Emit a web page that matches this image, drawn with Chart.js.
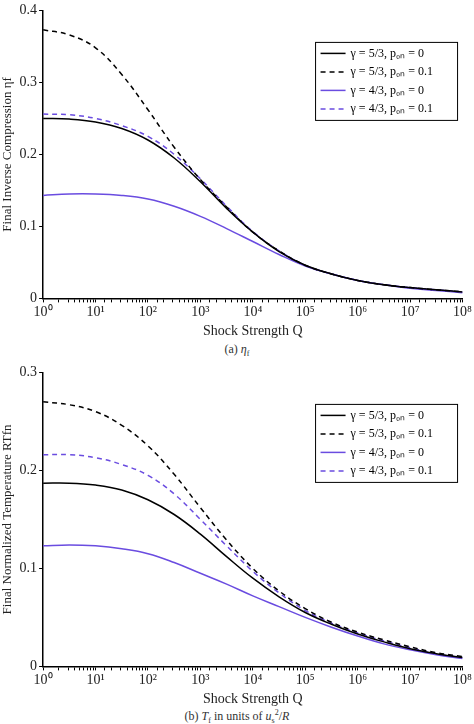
<!DOCTYPE html><html><head><meta charset="utf-8">
<script src="https://cdn.jsdelivr.net/npm/chart.js@4"></script>
<style>body{margin:0;background:#fff;font-family:'Liberation Serif',serif}
.c{position:absolute;left:0;width:474px}
.cap{position:absolute;width:474px;text-align:center;font-size:12px;color:#333}</style></head><body>
<div class="c" style="top:0;height:340px"><canvas id="a"></canvas></div>
<div class="cap" style="top:342px">(a) <i>η</i><sub style="font-size:8px">f</sub></div>
<div class="c" style="top:362px;height:346px"><canvas id="b"></canvas></div>
<div class="cap" style="top:708px">(b) <i>T</i><sub style="font-size:8px">f</sub> in units of <i>u</i><sub style="font-size:8px">s</sub><sup style="font-size:8px">2</sup>/<i>R</i></div>
<script>
const logQ=[0,0.5,1,1.5,2,2.5,3,3.5,4,4.5,5,5.5,6,6.5,7,7.5,8];
const labels=["γ = 5/3, p₀ₙ = 0","γ = 5/3, p₀ₙ = 0.1","γ = 4/3, p₀ₙ = 0","γ = 4/3, p₀ₙ = 0.1"];
const etaA=[0.250,0.249,0.245,0.236,0.220,0.195,0.162,0.125,0.092,0.065,0.046,0.034,0.025,0.019,0.015,0.012,0.009];
const etaB=[0.373,0.366,0.348,0.311,0.262,0.210,0.165,0.127,0.092,0.066,0.046,0.034,0.025,0.019,0.015,0.012,0.009];
const etaC=[0.143,0.145,0.145,0.143,0.138,0.128,0.114,0.097,0.079,0.061,0.045,0.034,0.025,0.019,0.014,0.011,0.008];
const etaD=[0.256,0.255,0.250,0.240,0.225,0.200,0.166,0.128,0.093,0.066,0.046,0.034,0.025,0.019,0.015,0.012,0.009];
const rtA=[0.187,0.187,0.185,0.180,0.170,0.155,0.135,0.112,0.090,0.071,0.055,0.043,0.033,0.025,0.018,0.013,0.009];
const rtB=[0.270,0.267,0.260,0.246,0.225,0.196,0.162,0.129,0.100,0.077,0.059,0.045,0.035,0.027,0.020,0.014,0.010];
const rtC=[0.123,0.124,0.123,0.120,0.115,0.106,0.095,0.084,0.072,0.061,0.050,0.040,0.031,0.023,0.017,0.012,0.008];
const rtD=[0.216,0.216,0.213,0.206,0.195,0.176,0.150,0.123,0.097,0.075,0.057,0.044,0.034,0.026,0.019,0.013,0.009];
const styles=[{c:'#000',d:[]},{c:'#000',d:[5,4]},{c:'#6a4ce0',d:[]},{c:'#6a4ce0',d:[5,4]}];
const sup={'0':'⁰','1':'¹','2':'²','3':'³','4':'⁴','5':'⁵','6':'⁶','7':'⁷','8':'⁸'};
const F="'Liberation Serif', serif";
const legendBox={id:'lb',afterDraw(ch){const a=ch.chartArea,g=ch.ctx;const w=142,h=78,x0=a.right-w-5,y0=a.top+32;
g.save();g.fillStyle='#fff';g.fillRect(x0,y0,w,h);g.strokeStyle='#000';g.lineWidth=1;g.strokeRect(x0,y0,w,h);
g.font='12px '+F;g.textBaseline='middle';
ch.data.datasets.forEach((ds,i)=>{const y=y0+11+i*18.5;g.strokeStyle=ds.borderColor;g.setLineDash(ds.borderDash);g.lineWidth=1.5;
g.beginPath();g.moveTo(x0+5,y);g.lineTo(x0+30,y);g.stroke();g.setLineDash([]);g.fillStyle='#000';g.fillText(labels[i],x0+35,y);});g.restore();}};
function make(id,arrs,ymax,ystep,ytitle,top,bottom){
new Chart(document.getElementById(id),{type:'line',plugins:[legendBox],
data:{datasets:arrs.map((arr,i)=>({data:logQ.map((l,j)=>({x:Math.pow(10,l),y:arr[j]})),borderColor:styles[i].c,borderDash:styles[i].d,borderWidth:1.5,pointRadius:0,tension:0.4,fill:false}))},
options:{responsive:true,maintainAspectRatio:false,animation:false,layout:{padding:{top:top,right:10,left:0,bottom:0}},
plugins:{legend:{display:false},tooltip:{enabled:false}},
scales:{x:{type:'logarithmic',min:1,max:1e8,border:{color:'#000',width:1.5},grid:{drawOnChartArea:false,tickLength:4,color:'#000'},
ticks:{color:'#222',font:{family:F,size:14},maxRotation:0,autoSkip:false,padding:2,callback:v=>{const l=Math.log10(v);return Math.abs(l-Math.round(l))<1e-9?'10'+sup[Math.round(l)]:''}},
title:{display:true,text:'Shock Strength Q',color:'#222',font:{family:F,size:14},padding:{top:0,bottom:0}}},
y:{min:0,max:ymax,border:{color:'#000',width:1.5},grid:{drawOnChartArea:false,tickLength:4,color:'#000'},
ticks:{stepSize:ystep,color:'#222',font:{family:F,size:14},padding:2,callback:v=>v===0?'0':v.toFixed(1)},
title:{display:true,text:ytitle,color:'#222',font:{family:F,size:13},padding:{top:0,bottom:2}}}}}});}
make('a',[etaA,etaB,etaC,etaD],0.4,0.1,'Final Inverse Compression ηf',8,0);
make('b',[rtA,rtB,rtC,rtD],0.3,0.1,'Final Normalized Temperature RTfn',10,0);
</script></body></html>
